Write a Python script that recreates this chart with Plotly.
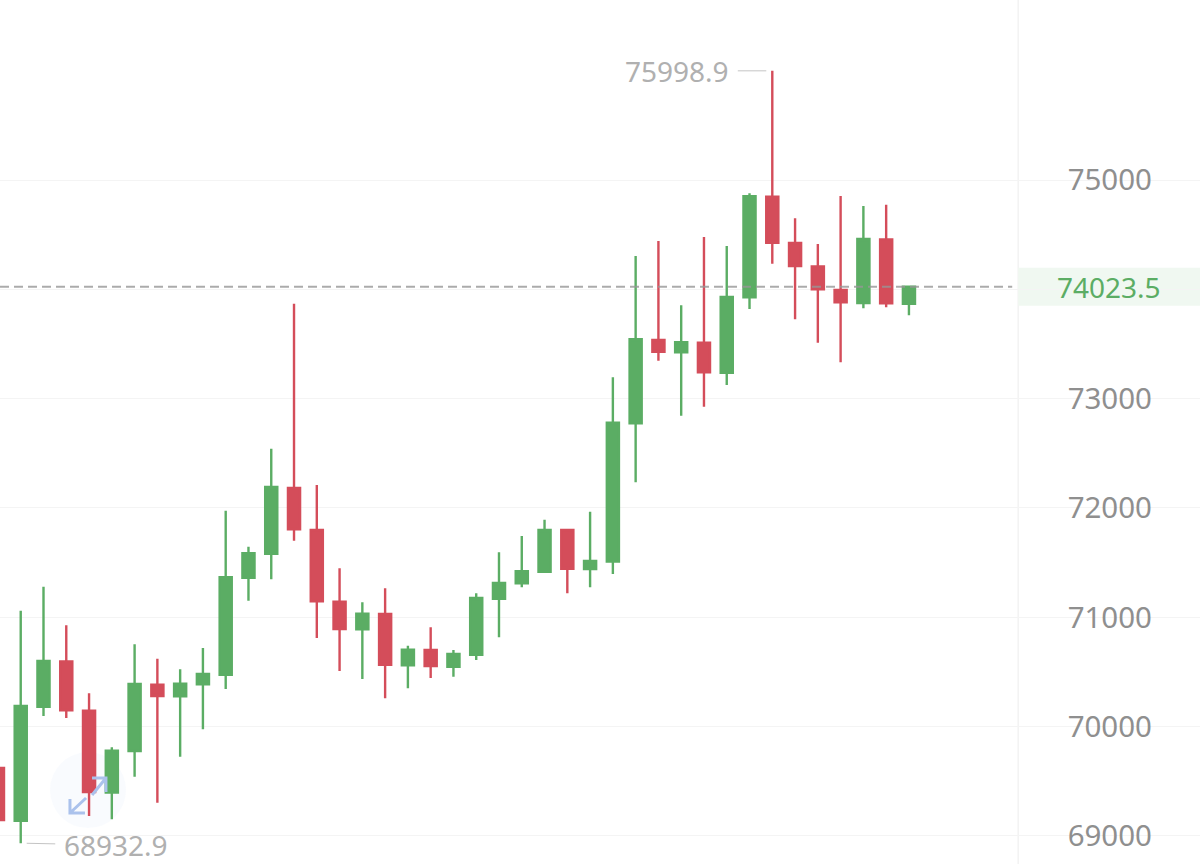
import plotly.graph_objects as go

# Candles (price units)
opens = [69620, 69138, 70181, 70595, 70145, 69396, 69776, 70383, 70276, 70386, 70474, 71361, 71581, 72182, 71798, 71142, 70889, 71029, 70560, 70700, 70547, 70657, 71169, 71310, 71416, 71798, 71441, 71510, 72774, 73536, 73424, 73511, 73237, 73927, 74847, 74424, 74210, 73994, 73875, 74457, 73868]
highs = [69620, 71060, 71279, 70926, 70304, 69810, 70752, 70620, 70523, 70718, 71974, 71645, 72542, 73868, 72210, 71447, 71136, 71264, 70739, 70908, 70700, 71219, 71594, 71743, 71892, 71798, 71965, 73195, 74305, 74442, 73854, 74479, 74396, 74878, 75998.9, 74650, 74414, 74854, 74762, 74774, 74023.5]
lows = [69145, 68932.9, 70096, 70078, 69181, 69151, 69541, 69303, 69724, 69974, 70343, 71151, 71347, 71700, 70810, 70508, 70435, 70258, 70349, 70444, 70456, 70608, 70816, 71274, 71416, 71219, 71274, 71395, 72234, 73347, 72844, 72926, 73124, 73820, 74234, 73726, 73511, 73332, 73826, 73835, 73762]
closes = [69145, 70188, 70599, 70148, 69401, 69779, 70389, 70279, 70392, 70480, 71365, 71585, 72191, 71804, 71145, 70892, 71032, 70565, 70703, 70554, 70663, 71176, 71313, 71420, 71798, 71444, 71514, 72780, 73543, 73429, 73515, 73241, 73930, 74851, 74426, 74213, 74000, 73881, 74460, 73872, 74023.5]
candle_index = list(range(len(opens)))

y_ticks = [69000, 70000, 71000, 72000, 73000, 74000, 75000]
y_tick_labels = ["69000", "70000", "71000", "72000", "73000", "", "75000"]
last_price = 74023.5

GREEN = "#5bad64"
RED = "#d44d5a"
FONT = "Noto Sans"

fig = go.Figure(go.Candlestick(
    x=candle_index,
    open=opens, high=highs, low=lows, close=closes,
    increasing=dict(line=dict(color=GREEN, width=2.4), fillcolor=GREEN),
    decreasing=dict(line=dict(color=RED, width=2.4), fillcolor=RED),
    whiskerwidth=0,
    showlegend=False,
))

# Grid runs full width, white patches sit behind the axis labels
for tick, label in zip(y_ticks, y_tick_labels):
    if label:
        fig.add_shape(type="rect", xref="paper", x0=0.86, x1=0.99, y0=tick - 150, y1=tick + 150,
                      fillcolor="white", line_width=0, layer="between")

# Price axis divider and last price
fig.add_shape(type="line", xref="paper", yref="paper", x0=0.8485, x1=0.8485, y0=0, y1=1,
              line=dict(color="#f3f3f3", width=1.5), layer="between")
fig.add_shape(type="rect", xref="paper", x0=0.8485, x1=1, y0=last_price - 174, y1=last_price + 174,
              fillcolor="#f0f8f1", line_width=0, layer="between")
fig.add_shape(type="line", xref="paper", x0=0, x1=0.8435, y0=last_price, y1=last_price,
              line=dict(color="rgba(150,150,150,0.8)", width=1.8, dash="9px,5px"), layer="above")
fig.add_annotation(xref="paper", x=0.9242, xanchor="center", y=last_price, text="74023.5", showarrow=False,
                   font=dict(family=FONT, size=28, color=GREEN))

# High and low labels
fig.add_annotation(x=34, y=max(highs), text="75998.9", ax=-95, ay=0, borderpad=8, standoff=6,
                   arrowwidth=1, arrowcolor="#c4c4c4", arrowhead=0,
                   font=dict(family=FONT, size=28, color="#b0b0b0"))
fig.add_annotation(x=1, y=min(lows), text="68932.9", ax=95, ay=2, borderpad=8, standoff=6,
                   arrowwidth=1, arrowcolor="#c4c4c4", arrowhead=0,
                   font=dict(family=FONT, size=28, color="#b0b0b0"))

# Expand button floating on top of the candles
fig.add_shape(type="circle", xref="paper", yref="paper", x0=0.0417, x1=0.105, y0=0.0416, y1=0.1296,
              fillcolor="rgba(170,195,240,0.07)", line_width=0, layer="below")
fig.add_shape(type="path", xref="paper", yref="paper",
              path="M 0.0583 0.0752 L 0.0583 0.0590 L 0.0708 0.0590 M 0.0583 0.0590 L 0.0717 0.0764",
              line=dict(color="#abc2ec", width=3), layer="above")
fig.add_shape(type="path", xref="paper", yref="paper",
              path="M 0.0767 0.0995 L 0.0883 0.0995 L 0.0883 0.0833 M 0.0883 0.0995 L 0.0767 0.0799",
              line=dict(color="#abc2ec", width=3), layer="above")

fig.update_layout(
    width=1200, height=864,
    margin=dict(l=0, r=0, t=0, b=0),
    paper_bgcolor="white",
    plot_bgcolor="white",
    boxgap=0.24,
    xaxis=dict(range=[0.09, 52.78], rangeslider_visible=False, visible=False, fixedrange=True),
    yaxis=dict(
        range=[68742, 76647],
        side="right",
        tickvals=y_ticks,
        ticktext=y_tick_labels,
        ticklabelposition="inside",
        ticklabelstandoff=45,
        ticks="",
        showline=False,
        zeroline=False,
        gridcolor="#f4f4f4",
        gridwidth=1,
        tickfont=dict(family=FONT, size=29.5, color="#8f8f8f"),
    ),
)

# Drop the browser's default body margin so the chart sits at the page corner
fig.write_html("out.html", config={"displayModeBar": False}, post_script="document.body.style.margin='0';")
